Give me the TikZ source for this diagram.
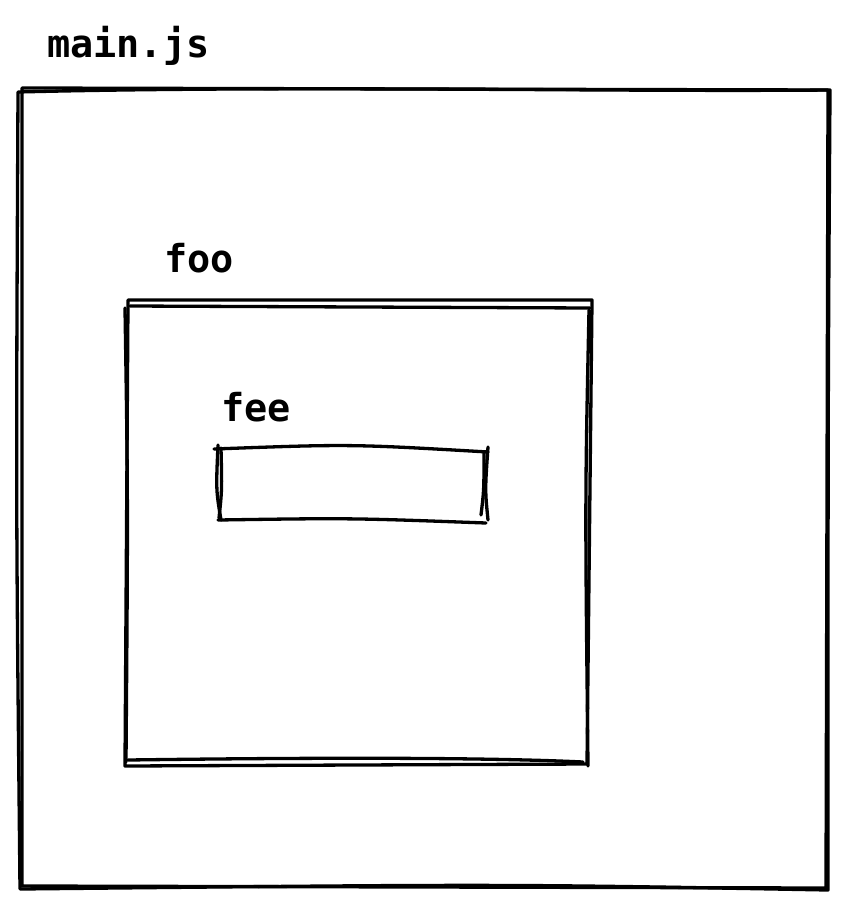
\documentclass[tikz,border=0pt]{standalone}
\usepackage{fontspec}
\setmonofont{DejaVu Sans Mono}
\begin{document}
\begin{tikzpicture}[x=1pt,y=-1pt,
  sketch/.style={draw=black,line width=3.3pt,line cap=round,line join=round},
  lbl/.style={anchor=base west,inner sep=0pt,font=\ttfamily\bfseries\fontsize{38.5}{42}\selectfont}]
\useasboundingbox[fill=white] (0,0) rectangle (846,907);
% labels
\node[lbl] (mainlbl) at (47,58) {main.js};
\node[lbl] (foolbl) at (164,272) {foo};
\node[lbl] (feelbl) at (221,421) {fee};
% outer box
\draw[sketch] (22,88) -- (828,90) -- (826,888) -- (22,886) -- cycle;
\draw[sketch] (18,92) .. controls (300,85) and (600,92) .. (830,90)
  .. controls (828,400) .. (828,890)
  .. controls (500,884) .. (20,889)
  .. controls (16,500) .. (18,92);
% foo box
\draw[sketch] (128,300) -- (592,300) -- (587,764) -- (125,766) -- cycle;
\draw[sketch] (125,308) .. controls (128,500) .. (126,762);
\draw[sketch] (130,306) -- (590,308);
\draw[sketch] (128,760) .. controls (350,757) and (500,758) .. (583,762);
\draw[sketch] (589,310) .. controls (585,500) .. (588,766);
% fee box
\draw[sketch] (214,449) .. controls (350,444) .. (488,452);
\draw[sketch] (488,447) .. controls (485,490) .. (488,520);
\draw[sketch] (486,523) .. controls (350,518) .. (218,520);
\draw[sketch] (218,445) .. controls (216,490) .. (221,520);
\draw[sketch] (221,448) .. controls (222,490) .. (219,518);
\draw[sketch] (484,452) .. controls (484,490) .. (481,515);
\end{tikzpicture}
\end{document}
